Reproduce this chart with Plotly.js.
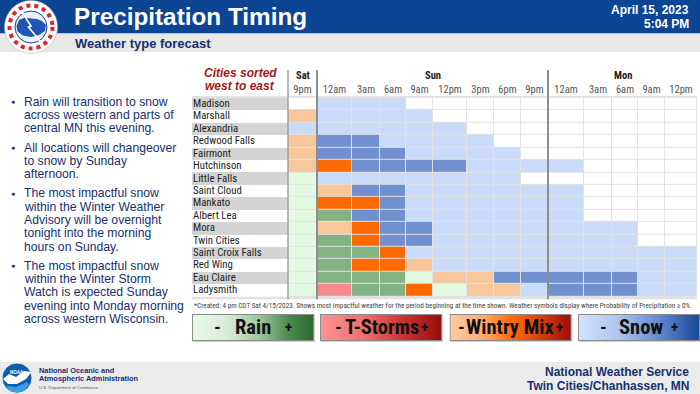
<!DOCTYPE html>
<html><head><meta charset="utf-8">
<script src="https://cdn.plot.ly/plotly-3.0.1.min.js"></script>
<style>html,body{margin:0;padding:0;background:#fff}#chart{width:700px;height:394px}</style>
</head><body><div id="chart"></div>
<script>
// ---------- DATA ----------
const cities = ['Madison','Marshall','Alexandria','Redwood Falls','Fairmont','Hutchinson','Little Falls','Saint Cloud','Mankato','Albert Lea','Mora','Twin Cities','Saint Croix Falls','Red Wing','Eau Claire','Ladysmith'];
const days = ['Sat','Sun','Mon'];
const periodsPerDay = [1, 8, 5];
const times = ['9pm','12am','3am','6am','9am','12pm','3pm','6pm','9pm','12am','3am','6am','9am','12pm'];
// weather per city & period: . none, r rain, R rain+, T t-storms, m wintry mix, M wintry mix+, s snow, S snow+
const weather = [
  '.sss..........',
  'mssss.........',
  'ssssss........',
  'mSSssss.......',
  'mSSSssss......',
  'mMSSSSssss....',
  'rsssssss......',
  'rmSSssssss....',
  'rMMSssssss....',
  'rRSSssssss....',
  'rmMSSsssssss..',
  'rRMSSsssssss..',
  'rRRMssssssssss',
  'rRMMmsssssssss',
  'rRRRrmmSSSSSss',
  'rTRRMrmmsSSSss'
];
const typeCodes = ['.','r','R','T','m','M','s','S'];
const legendLabels = ['Rain','T-Storms','Wintry Mix','Snow'];
const bulletLines = [
  ['Rain will transition to snow','across western and parts of','central MN this evening.'],
  ['All locations will changeover','to snow by Sunday','afternoon.'],
  ['The most impactful snow','within the Winter Weather','Advisory will be overnight','tonight into the morning','hours on Sunday.'],
  ['The most impactful snow','within the Winter Storm','Watch is expected Sunday','evening into Monday morning','across western Wisconsin.']
];
const footnote = '*Created: 4 pm CDT Sat 4/15/2023. Shows most impactful weather for the period beginning at the time shown. Weather symbols display where Probability of Precipitation \u2265 0%.';

// ---------- STYLE ----------
const W = 700, H = 394;
const px = x => x / W, py = y => 1 - y / H;
const SANS = 'Liberation Sans, Arial, Helvetica, sans-serif';
const NARROW = '"Liberation Sans Narrow", "Roboto Condensed", "DejaVu Sans Condensed", Roboto, sans-serif';
const NAVY = '#17306e';
const typeColors = ['#ffffff','#e2fae2','#83b384','#f6898a','#f8c79b','#ff6a00','#c9dbf8','#7090d0'];
const labelWidth = 96;
const colWidths = [29,35,28,26,27,34,27,27,27,36,28,26,27,32];
const gridLeft = 192, gridTop = 96, gridBottom = 299.3;

const edges = [labelWidth];
colWidths.forEach(w => edges.push(edges[edges.length - 1] + w));
const totalW = edges[edges.length - 1];
const centers = colWidths.map((w, i) => (edges[i] + edges[i + 1]) / 2);

// discrete colorscale
const n = typeColors.length;
const cscale = [];
typeColors.forEach((c, i) => { cscale.push([i / n, c]); cscale.push([(i + 1) / n, c]); });

const z = weather.map(r => r.split('').map(ch => typeCodes.indexOf(ch)));

const traces = [
  { type: 'heatmap', x: [0, labelWidth], y: cities, z: cities.map((c, i) => [i % 2]),
    colorscale: [[0, '#d4d4d4'], [1, '#ffffff']], zmin: 0, zmax: 1, showscale: false, hoverinfo: 'skip' },
  { type: 'heatmap', x: edges, y: cities, z: z, colorscale: cscale, zmin: -0.5, zmax: n - 0.5,
    xgap: 1, ygap: 1, showscale: false, hoverinfo: 'skip' }
];

const shapes = [];
const annotations = [];
const rect = (x0, y0, x1, y1, fill, extra) => Object.assign({ type: 'rect', xref: 'paper', yref: 'paper', x0: px(x0), x1: px(x1), y0: py(y1), y1: py(y0), fillcolor: fill, line: { width: 0 }, layer: 'below' }, extra || {});
const circ = (cx, cy, r, fill, line, extra) => Object.assign({ type: 'circle', xref: 'paper', yref: 'paper', x0: px(cx - r), x1: px(cx + r), y0: py(cy + r), y1: py(cy - r), fillcolor: fill, line: line || { width: 0 }, layer: 'above' }, extra || {});
const pathOf = (pts, close) => pts.map((p, i) => (i ? 'L' : 'M') + px(p[0]).toFixed(5) + ',' + py(p[1]).toFixed(5)).join(' ') + (close ? ' Z' : '');

// bands
shapes.push(rect(0, 0, 700, 33.5, '#0c4594'));
shapes.push(rect(0, 33.5, 700, 52, '#e8e8e8'));
shapes.push(rect(0, 362, 700, 394, '#ebebeb'));

// NWS logo
shapes.push(circ(31, 27, 26.5, '#ffffff', { color: '#b8b8b8', width: 0.6 }));
shapes.push(circ(31, 27, 21.5, 'rgba(255,255,255,0)', { color: '#d42a2a', width: 4, dash: 'dot' }));
shapes.push(circ(31, 27, 16, '#e9f1fb', { color: '#1b3f8f', width: 1 }));
shapes.push({ type: 'path', xref: 'paper', yref: 'paper', path: pathOf([[16.5,26],[19,20],[25,17.5],[31,18.5],[37,19],[42,21],[46,25],[45,31],[39,35],[31,37],[23,35.5],[17.5,31.5]], true), fillcolor: '#1f55b3', line: { width: 0 }, layer: 'above' });
shapes.push({ type: 'path', xref: 'paper', yref: 'paper', path: pathOf([[22,12],[31,26],[28.5,27],[40,41]], false), line: { color: '#ffffff', width: 1.6 }, layer: 'above' });

// NOAA logo
shapes.push(circ(17, 378, 15, '#0e5cad', { color: '#ffffff', width: 0.8 }));
shapes.push({ type: 'path', xref: 'paper', yref: 'paper', path: pathOf([[3,379],[9,374],[16,377],[24,371],[31.5,372],[26,379],[17,384],[8,384]], true), fillcolor: '#ffffff', line: { width: 0 }, layer: 'above' });
shapes.push({ type: 'path', xref: 'paper', yref: 'paper', path: pathOf([[6,386],[16,387],[27,382],[29,385],[24,391],[17,393],[10,391]], true), fillcolor: '#3d9be3', line: { width: 0 }, layer: 'above' });

// separators (label|Sat, day boundaries)
const sepYTop = py(70), sepYBot = py(gridBottom);
shapes.push({ type: 'line', xref: 'x', yref: 'paper', x0: labelWidth, x1: labelWidth, y0: sepYBot, y1: sepYTop, line: { color: '#a0a0a0', width: 1.5 }, layer: 'above' });
let acc = 0;
periodsPerDay.slice(0, -1).forEach(p => {
  acc += p;
  const xe = edges[acc];
  shapes.push({ type: 'line', xref: 'x', yref: 'paper', x0: xe, x1: xe, y0: sepYBot, y1: sepYTop, line: { color: '#8e8e8e', width: 2 }, layer: 'above' });
});

const ann = (text, x, y, font, extra) => Object.assign({ text, x: px(x), y: py(y), xref: 'paper', yref: 'paper', showarrow: false, xanchor: 'left', yanchor: 'middle', font: Object.assign({ family: SANS, size: 12, color: '#000' }, font) }, extra || {});

// header texts
annotations.push(ann('<b>Precipitation Timing</b>', 72, 16.5, { size: 24.3, color: '#ffffff' }));
annotations.push(ann('<b>April 15, 2023</b>', 691, 9.5, { size: 12, color: '#ffffff' }, { xanchor: 'right' }));
annotations.push(ann('<b>5:04 PM</b>', 691, 24.5, { size: 12, color: '#ffffff' }, { xanchor: 'right' }));
annotations.push(ann('<b>Weather type forecast</b>', 73, 43, { size: 13, color: NAVY }));

// footer texts
annotations.push(ann('<b>National Oceanic and</b>', 36.5, 370.5, { size: 7.4, color: NAVY }));
annotations.push(ann('<b>Atmospheric Administration</b>', 36.5, 378.8, { size: 7.4, color: NAVY }));
annotations.push(ann('U.S. Department of Commerce', 36.5, 387, { size: 4.3, color: '#555' }));
annotations.push(ann('<b>NOAA</b>', 17, 372.5, { size: 4.5, color: '#ffffff' }, { xanchor: 'center' }));
annotations.push(ann('<b>National Weather Service</b>', 691, 371.5, { size: 12, color: NAVY }, { xanchor: 'right' }));
annotations.push(ann('<b>Twin Cities/Chanhassen, MN</b>', 691, 385.5, { size: 12, color: NAVY }, { xanchor: 'right' }));

// bullets
let by = 101.7;
bulletLines.forEach(lines => {
  annotations.push(ann('\u25CF', 8.5, by, { size: 7, color: NAVY }));
  lines.forEach(l => { annotations.push(ann(l, 21.5, by, { size: 12.2, color: NAVY })); by += 13.3; });
  by += 19.2 - 13.3;
});

// table header
annotations.push(ann('<b><i>Cities sorted</i></b>', 240, 73.3, { size: 12, color: '#9e1b1b' }, { xanchor: 'center' }));
annotations.push(ann('<b><i>west to east</i></b>', 240, 85.5, { size: 12, color: '#9e1b1b' }, { xanchor: 'center' }));
acc = 0;
days.forEach((d, i) => {
  const x0 = edges[acc], x1 = edges[acc + periodsPerDay[i]];
  acc += periodsPerDay[i];
  annotations.push({ text: '<b>' + d + '</b>', x: (x0 + x1) / 2, xref: 'x', y: py(75.5), yref: 'paper', showarrow: false, xanchor: 'center', yanchor: 'middle', font: { family: NARROW, size: 10.5, color: '#222' } });
});

// city labels, placed on the category axis
cities.forEach(c => {
  annotations.push({ text: c, x: 0, xref: 'x', y: c, yref: 'y', showarrow: false, xanchor: 'left', yanchor: 'middle', xshift: -1, yshift: 0.5, font: { family: NARROW, size: 10.8, color: '#1e1e1e' } });
});

// footnote
annotations.push(ann(footnote, 191.5, 305, { family: NARROW, size: 7.2, color: '#444' }));

// legend boxes
const legendBoxes = [
  { x: 192, stops: [[0,'#ecf9ea'],[0.3,'#d6ecd4'],[0.55,'#9cc79c'],[0.8,'#4a8a4d'],[1,'#2a6a2f']], minus: 217, plus: 288, mid: 252.5 },
  { x: 320, stops: [[0,'#fb9393'],[0.35,'#f07070'],[0.7,'#c83030'],[1,'#980c0c']], minus: 338, plus: 425, mid: 381.5 },
  { x: 449.5, stops: [[0,'#fbcda2'],[0.25,'#fdb07a'],[0.5,'#ff6d10'],[0.7,'#e2480e'],[1,'#a00c0c']], minus: 461, plus: 559, mid: 510 },
  { x: 578, stops: [[0,'#d3e3fb'],[0.35,'#aac3ee'],[0.7,'#5a82cc'],[1,'#184897']], minus: 603, plus: 674, mid: 641 }
];
function gradImg(stops) {
  const st = stops.map(s => '<stop offset="' + s[0] + '" stop-color="' + s[1] + '"/>').join('');
  const svg = '<svg xmlns="http://www.w3.org/2000/svg" width="122" height="27" viewBox="0 0 122 27" preserveAspectRatio="none"><defs><linearGradient id="g" x1="0" y1="0" x2="1" y2="0">' + st + '</linearGradient></defs><rect x="0.5" y="0.5" width="121" height="26" fill="url(#g)" stroke="#8c8c8c" stroke-width="1"/></svg>';
  return 'data:image/svg+xml;charset=utf-8,' + encodeURIComponent(svg);
}
const images = [];
legendBoxes.forEach((b, i) => {
  shapes.push(rect(b.x + 1, 315, b.x + 123, 342, '#cfcfcf', { layer: 'below' }));
  images.push({ source: gradImg(b.stops), xref: 'paper', yref: 'paper', x: px(b.x), y: py(314), sizex: px(122), sizey: 27 / H, xanchor: 'left', yanchor: 'top', sizing: 'stretch', layer: 'above' });
  annotations.push(ann('<b>-</b>', b.minus, 327, { family: NARROW, size: 19, color: '#111' }, { xanchor: 'center' }));
  annotations.push(ann('<b>' + legendLabels[i] + '</b>', b.mid, 327, { family: NARROW, size: 20.5, color: '#111' }, { xanchor: 'center' }));
  annotations.push(ann('<b>+</b>', b.plus, 326.5, { family: NARROW, size: 15, color: '#111' }, { xanchor: 'center' }));
});

const layout = {
  width: W, height: H,
  margin: { l: 0, r: 0, t: 0, b: 0, pad: 0 },
  paper_bgcolor: '#ffffff', plot_bgcolor: '#e2e2e2',
  showlegend: false,
  xaxis: { domain: [px(gridLeft), px(gridLeft + totalW)], range: [0, totalW], side: 'top',
    tickmode: 'array', tickvals: centers, ticktext: times, ticks: '', showgrid: false, zeroline: false, showline: false,
    tickfont: { family: NARROW, size: 10.5, color: '#555' }, fixedrange: true },
  yaxis: { domain: [py(gridBottom), py(gridTop)], type: 'category', categoryorder: 'array', categoryarray: cities,
    autorange: 'reversed', ticks: '', showticklabels: false, showgrid: false, zeroline: false, showline: false, fixedrange: true },
  shapes, annotations, images
};

Plotly.newPlot('chart', traces, layout, { staticPlot: true, displayModeBar: false });
</script>
</body></html>
